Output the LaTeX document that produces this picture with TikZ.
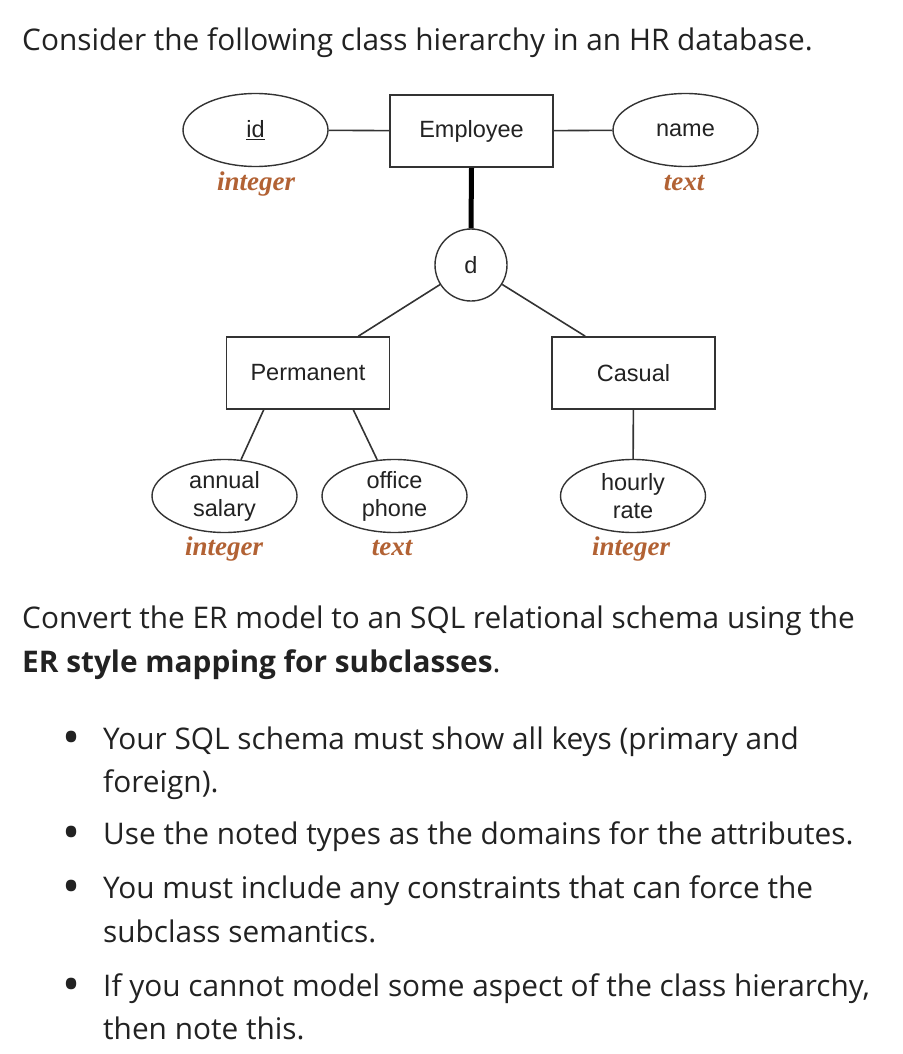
\documentclass[tikz,border=0pt]{standalone}
\usepackage{fontspec}
\setmainfont{Open Sans}
\newfontfamily\erfont{Liberation Sans}
\newfontfamily\typefont{Liberation Serif}
\usetikzlibrary{shapes.geometric}
\definecolor{ink}{HTML}{222222}
\definecolor{edge}{HTML}{333333}
\definecolor{typebrown}{RGB}{178,98,52}

\begin{document}
\begin{tikzpicture}[x=1pt, y=-1pt]
\tikzstyle{entity}=[draw=edge, line width=1.6pt, minimum width=163pt, minimum height=72pt, inner sep=0pt, text=ink, font=\erfont\fontsize{23.5}{28}\selectfont];
\tikzstyle{attr}=[draw=edge, ellipse, line width=1.4pt, minimum width=145pt, minimum height=73pt, inner sep=0pt, align=center, text=ink, font=\erfont\fontsize{23.5}{28}\selectfont];
\tikzstyle{dtype}=[anchor=base, inner sep=0pt, text=typebrown, font=\typefont\bfseries\itshape\fontsize{27}{30}\selectfont];
\tikzstyle{para}=[anchor=base west, inner sep=0pt, text=ink, font=\fontsize{29.8}{36}\selectfont];
\tikzstyle{dot}=[anchor=base, inner sep=0pt, text=ink, font=\fontsize{48}{50}\selectfont];
\tikzstyle{link}=[draw=edge, line width=1.6pt];
\useasboundingbox (0,0) rectangle (902,1054);
\node [para] (intro) at (22,51) {Consider the following class hierarchy in an HR database.};
% ER diagram
\node [entity] (emp) at (471.5,131) {Employee};
\node [attr] (id) at (255.5,130) {\underline{id}};
\node [attr] (nm) at (685.5,130) {name};
\node [dtype] (tid) at (256,190) {integer};
\node [dtype] (tnm) at (684,190) {text};
\node [draw=edge, circle, line width=1.4pt, minimum size=72pt, inner sep=0pt, text=ink, font=\erfont\fontsize{23.5}{28}\selectfont] (d) at (471,265) {d};
\node [entity] (perm) at (308,373) {Permanent};
\node [entity] (cas) at (633.5,373) {Casual};
\node [attr] (sal) at (224.5,496) {annual\\salary};
\node [attr] (ph) at (394.5,496) {office\\phone};
\node [attr] (hr) at (633,496) {hourly\\rate};
\node [dtype] (tsal) at (224,555) {integer};
\node [dtype] (tph) at (392,555) {text};
\node [dtype] (thr) at (631,555) {integer};
\draw [link] (id) -- (emp)
(emp) -- (nm)
(d) -- ([xshift=-32pt]perm.north east)
(d) -- ([xshift=34pt]cas.north west)
([xshift=38pt]perm.south west) -- (sal)
([xshift=-37pt]perm.south east) -- (ph)
(cas) -- (hr);
\draw [line width=5pt] (emp.south) -- (d.north); % total
% question text
\node [para] (conv) at (22,628) {Convert the ER model to an SQL relational schema using the};
\node [para] (convb) at (22,672) {\textbf{ER style mapping for subclasses}.};
\node [dot] (b1) at (72,754) {•};
\node [para] (l1) at (103,749) {Your SQL schema must show all keys (primary and};
\node [para] (l1b) at (103,792) {foreign).};
\node [dot] (b2) at (72,849) {•};
\node [para] (l2) at (103,844) {Use the noted types as the domains for the attributes.};
\node [dot] (b3) at (72,903) {•};
\node [para] (l3) at (103,898) {You must include any constraints that can force the};
\node [para] (l3b) at (103,942) {subclass semantics.};
\node [dot] (b4) at (72,1001) {•};
\node [para] (l4) at (103,996) {If you cannot model some aspect of the class hierarchy,};
\node [para] (l4b) at (103,1039) {then note this.};
\end{tikzpicture}
\end{document}
